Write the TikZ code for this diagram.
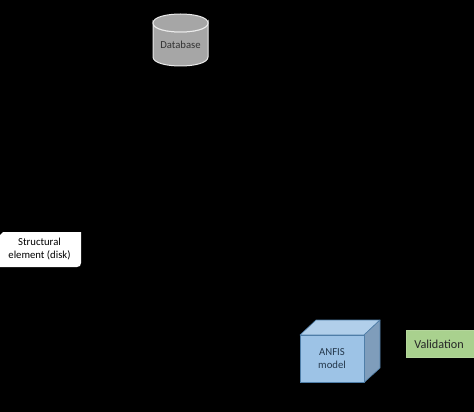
\documentclass[tikz,border=0pt]{standalone}
\usepackage{fontspec}
\setmainfont{Carlito}
\usepackage[dvipsnames]{xcolor}
\definecolor{boxfront}{HTML}{9DC3E6}
\definecolor{boxtop}{HTML}{B1CFEA}
\definecolor{boxside}{HTML}{7F9DBB}
\definecolor{boxedge}{HTML}{4F7EA8}
\definecolor{boxtext}{HTML}{24384C}
\definecolor{valfill}{HTML}{A9D18E}
\definecolor{valedge}{HTML}{B5D69C}
\tikzset{
  dbface/.style={draw=white!92!black, line width=1pt, fill=black!35},
  lbl/.style={align=center, inner sep=0pt, font=\fontsize{10.7}{13}\selectfont},
  boxface/.style={draw=boxedge, line width=0.6pt, line join=round}
}
\begin{document}
\begin{tikzpicture}[x=1pt, y=-1pt]
\fill[black] (0,0) rectangle (474,412);
\useasboundingbox (0,0) rectangle (474,412);
% database
\draw[dbface] (153,23) .. controls (153,35) and (208,35) .. (208,23) -- (208,57) .. controls (208,69) and (153,69) .. (153,57) -- cycle;
\draw[dbface] (153,23) .. controls (153,11) and (208,11) .. (208,23) .. controls (208,35) and (153,35) .. (153,23) -- cycle;
\node[lbl, text=black!80] (dblabel) at (180.5,44.5) {Database};
% structural element
\fill[white] (0,235) -- (3,232) -- (81,232) -- (81,263) .. controls (81,265.5) and (79.5,267) .. (77,267) -- (0,267) -- cycle;
\node[lbl] (disk) at (39.5,249.5) {Structural\\element (disk)};
% anfis block
\draw[boxface, fill=boxtop] (300,335) -- (316,320) -- (380,320) -- (364,335) -- cycle;
\draw[boxface, fill=boxside] (364,335) -- (380,320) -- (380,368) -- (364,382.5) -- cycle;
\draw[boxface, fill=boxfront] (300,335) rectangle (364,382.5);
\node[lbl, text=boxtext] (anfis) at (332,359) {ANFIS\\model};
% validation
\node[draw=valedge, fill=valfill, line width=0.6pt, minimum width=72pt, minimum height=27.5pt, inner sep=0pt, anchor=west] (val) at (405.5,344) {};
\node[inner sep=0pt, font=\fontsize{12.2}{14}\selectfont, text=black!85] (vallabel) at (439,344) {Validation};
\end{tikzpicture}
\end{document}
